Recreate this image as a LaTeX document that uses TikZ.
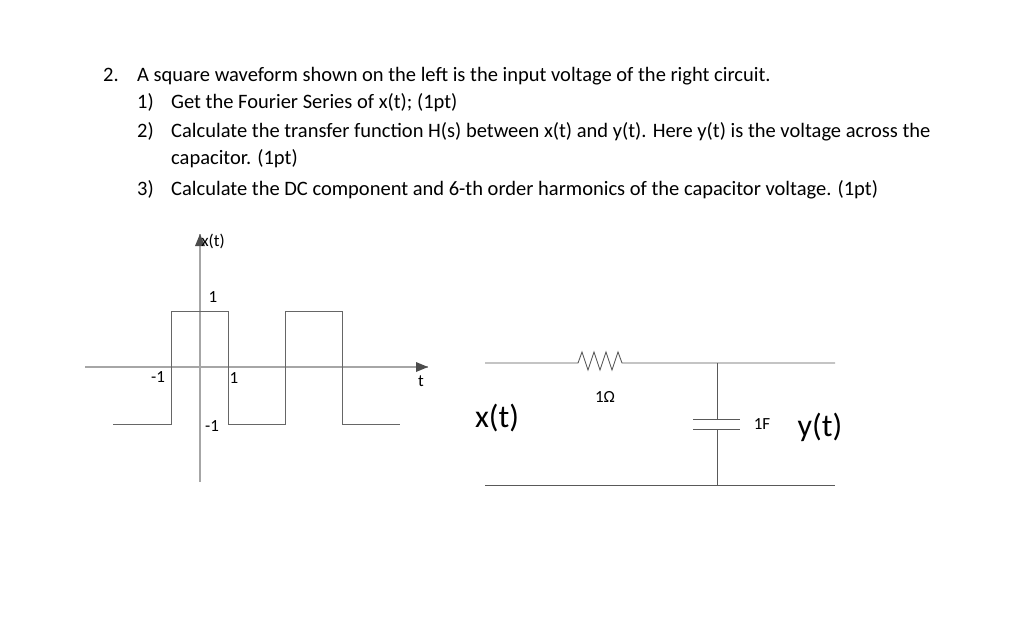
\documentclass[tikz,border=0pt]{standalone}
\usepackage{fontspec}
\setmainfont{Carlito}
\begin{document}
\begin{tikzpicture}[x=1pt,y=-1pt,
  txt/.style={anchor=base west,inner sep=0pt,font=\fontsize{20.5}{24}\selectfont},
  lab/.style={inner sep=0pt,font=\fontsize{17}{20}\selectfont},
  big/.style={inner sep=0pt,font=\fontsize{32}{36}\selectfont},
  ax/.style={draw=black!35,line width=1.2pt},
  wave/.style={draw=black!60,line width=0.8pt},
  wire/.style={draw=black!65,line width=0.9pt}]
\useasboundingbox (0,0) rectangle (1024,637);
\node[txt] (qn) at (103,81) {2.};
\node[txt] (q) at (137,81) {A square waveform shown on the left is the input voltage of the right circuit.};
\node[txt] (n1) at (137,108) {1)};
\node[txt] (i1) at (171,108) {Get the Fourier Series of x(t); (1pt)};
\node[txt] (n2) at (137,137) {2)};
\node[txt] (i2) at (171,137) {Calculate the transfer function H(s) between x(t) and y(t). Here y(t) is the voltage across the};
\node[txt] (i2b) at (171,164) {capacitor. (1pt)};
\node[txt] (n3) at (137,195) {3)};
\node[txt] (i3) at (171,195) {Calculate the DC component and 6-th order harmonics of the capacitor voltage. (1pt)};
% waveform axes
\coordinate (hl) at (85,367); \coordinate (hr) at (428,367);
\coordinate (vb) at (200,482); \coordinate (vt) at (200,234);
\draw[ax] (hl) -- (hr);
\fill[black!70] (hr) -- ++(-12,-5) -- ++(0,10) -- cycle;
\draw[ax] (vb) -- (vt);
\fill[black!70] (vt) -- ++(-5,12) -- ++(10,0) -- cycle;
\draw[wave] (113,424) -- (171,424) -- (171,311) -- (228,311) -- (228,424) -- (285,424) -- (285,311) -- (342,311) -- (342,424) -- (400,424);
\node[lab] (xt) at (213,241) {x(t)};
\node[lab] (one) at (213,297) {1};
\node[lab] (m1) at (158,377) {-1};
\node[lab] (p1) at (234,378) {1};
\node[lab] (mm1) at (212,426) {-1};
\node[lab] (t) at (421,381) {t};
% circuit
\coordinate (a) at (485,363); \coordinate (r1) at (578,363); \coordinate (r2) at (622,363);
\coordinate (n) at (717,363); \coordinate (b) at (835,363);
\draw[wire] (a) -- (r1) -- (582,352) -- (588,370) -- (594,352) -- (600,370) -- (606,352) -- (612,370) -- (618,352) -- (r2) -- (n) -- (b);
\draw[wire] (n) -- (717,419);
\draw[wire] (693,419) -- (740,419);
\draw[wire] (693,429) -- (740,429);
\draw[wire] (717,429) -- (717,485);
\draw[wire] (485,485) -- (835,485);
\node[lab] (R) at (605,397) {1Ω};
\node[lab] (C) at (762,424) {1F};
\node[big] (x) at (497,418) {x(t)};
\node[big] (y) at (820,427) {y(t)};
\end{tikzpicture}
\end{document}
